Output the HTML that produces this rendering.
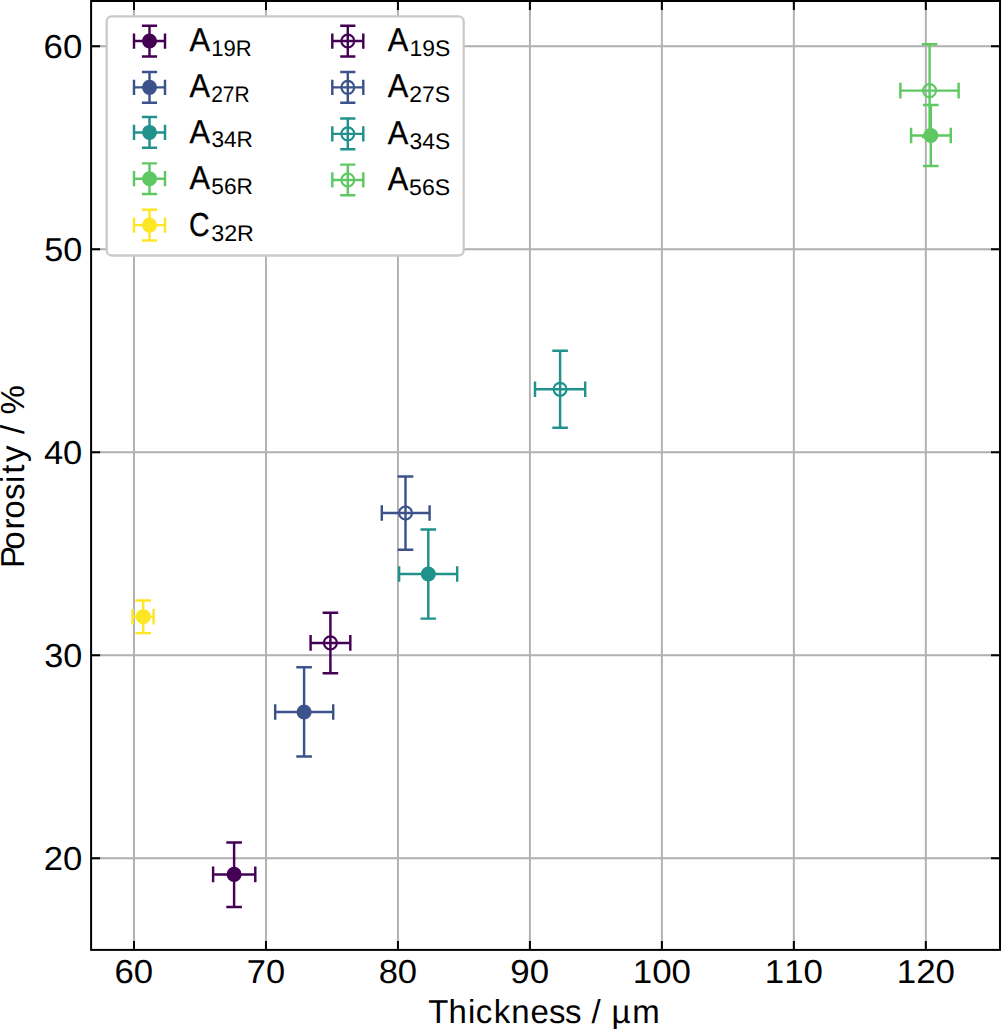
<!DOCTYPE html><html><head><meta charset="utf-8"><title>Porosity vs Thickness</title><style>html,body{margin:0;padding:0;background:#fff;overflow:hidden;}svg{display:block;text-rendering:geometricPrecision;}text{font-family:"Liberation Sans",sans-serif;fill:#000;font-kerning:none;}</style></head><body><svg width="1001" height="1029" viewBox="0 0 1001 1029"><rect x="0" y="0" width="1001" height="1029" fill="#fff"/><path d="M134.00 1.0V949.9 M265.97 1.0V949.9 M397.94 1.0V949.9 M529.91 1.0V949.9 M661.88 1.0V949.9 M793.85 1.0V949.9 M925.82 1.0V949.9 M91.1 858.30H1000.0 M91.1 655.27H1000.0 M91.1 452.25H1000.0 M91.1 249.23H1000.0 M91.1 46.20H1000.0" stroke="#b0b0b0" stroke-width="1.95" fill="none"/><path d="M213.10 874.40H255.30M234.10 842.40V907.00M213.10 866.60V882.20M255.30 866.60V882.20M226.30 842.40H241.90M226.30 907.00H241.90" stroke="#440154" stroke-width="2.45" fill="none"/><circle cx="234.10" cy="874.40" r="7.55" fill="#440154"/><path d="M310.60 642.90H350.30M330.40 612.70V673.30M310.60 635.10V650.70M350.30 635.10V650.70M322.60 612.70H338.20M322.60 673.30H338.20" stroke="#440154" stroke-width="2.45" fill="none"/><circle cx="330.40" cy="642.90" r="6.47" fill="none" stroke="#440154" stroke-width="2.15"/><path d="M275.20 712.00H333.20M304.10 667.30V756.40M275.20 704.20V719.80M333.20 704.20V719.80M296.30 667.30H311.90M296.30 756.40H311.90" stroke="#3b528b" stroke-width="2.45" fill="none"/><circle cx="304.10" cy="712.00" r="7.55" fill="#3b528b"/><path d="M381.80 513.00H429.60M405.50 476.50V549.80M381.80 505.20V520.80M429.60 505.20V520.80M397.70 476.50H413.30M397.70 549.80H413.30" stroke="#3b528b" stroke-width="2.45" fill="none"/><circle cx="405.50" cy="513.00" r="6.47" fill="none" stroke="#3b528b" stroke-width="2.15"/><path d="M399.10 574.00H457.20M428.30 529.40V618.60M399.10 566.20V581.80M457.20 566.20V581.80M420.50 529.40H436.10M420.50 618.60H436.10" stroke="#21918c" stroke-width="2.45" fill="none"/><circle cx="428.30" cy="574.00" r="7.55" fill="#21918c"/><path d="M535.00 389.30H585.20M560.10 350.80V427.80M535.00 381.50V397.10M585.20 381.50V397.10M552.30 350.80H567.90M552.30 427.80H567.90" stroke="#21918c" stroke-width="2.45" fill="none"/><circle cx="560.10" cy="389.30" r="6.47" fill="none" stroke="#21918c" stroke-width="2.15"/><path d="M900.40 90.60H958.60M929.60 44.30V136.90M900.40 82.80V98.40M958.60 82.80V98.40M921.80 44.30H937.40M921.80 136.90H937.40" stroke="#5ec962" stroke-width="2.45" fill="none"/><circle cx="929.60" cy="90.60" r="6.47" fill="none" stroke="#5ec962" stroke-width="2.15"/><path d="M911.10 135.50H950.80M930.80 105.00V166.00M911.10 127.70V143.30M950.80 127.70V143.30M923.00 105.00H938.60M923.00 166.00H938.60" stroke="#5ec962" stroke-width="2.45" fill="none"/><circle cx="930.80" cy="135.50" r="7.55" fill="#5ec962"/><path d="M132.60 616.70H153.60M143.20 600.50V633.10M132.60 608.90V624.50M153.60 608.90V624.50M135.40 600.50H151.00M135.40 633.10H151.00" stroke="#fde725" stroke-width="2.45" fill="none"/><circle cx="143.20" cy="616.70" r="7.55" fill="#fde725"/><path d="M134.00 949.9V940.9M134.00 1.0V10.0 M265.97 949.9V940.9M265.97 1.0V10.0 M397.94 949.9V940.9M397.94 1.0V10.0 M529.91 949.9V940.9M529.91 1.0V10.0 M661.88 949.9V940.9M661.88 1.0V10.0 M793.85 949.9V940.9M793.85 1.0V10.0 M925.82 949.9V940.9M925.82 1.0V10.0 M91.1 858.30H100.1M1000.0 858.30H991.0 M91.1 655.27H100.1M1000.0 655.27H991.0 M91.1 452.25H100.1M1000.0 452.25H991.0 M91.1 249.23H100.1M1000.0 249.23H991.0 M91.1 46.20H100.1M1000.0 46.20H991.0" stroke="#000" stroke-width="2" fill="none"/><rect x="91.1" y="1.0" width="908.9" height="948.9" fill="none" stroke="#000" stroke-width="2"/><text x="114.51" y="983.00" font-size="33.17" textLength="38.69" lengthAdjust="spacingAndGlyphs">60</text><text x="246.86" y="983.00" font-size="33.17" textLength="38.29" lengthAdjust="spacingAndGlyphs">70</text><text x="378.65" y="983.00" font-size="33.17" textLength="38.48" lengthAdjust="spacingAndGlyphs">80</text><text x="510.33" y="983.00" font-size="33.17" textLength="38.77" lengthAdjust="spacingAndGlyphs">90</text><text x="632.79" y="983.00" font-size="33.17" textLength="58.25" lengthAdjust="spacingAndGlyphs">100</text><text x="764.76" y="983.00" font-size="33.17" textLength="58.25" lengthAdjust="spacingAndGlyphs">110</text><text x="896.73" y="983.00" font-size="33.17" textLength="58.25" lengthAdjust="spacingAndGlyphs">120</text><text x="43.72" y="870.10" font-size="33.17" textLength="38.55" lengthAdjust="spacingAndGlyphs">20</text><text x="44.25" y="667.07" font-size="33.17" textLength="38.00" lengthAdjust="spacingAndGlyphs">30</text><text x="43.91" y="464.05" font-size="33.17" textLength="38.36" lengthAdjust="spacingAndGlyphs">40</text><text x="44.22" y="261.03" font-size="33.17" textLength="38.04" lengthAdjust="spacingAndGlyphs">50</text><text x="43.59" y="58.00" font-size="33.17" textLength="38.69" lengthAdjust="spacingAndGlyphs">60</text><text transform="scale(0.9941 1)" x="430.90 451.14 470.77 478.57 496.62 514.29 533.59 552.25 568.36 584.49 594.92 604.74 615.03 635.93" y="1022.70" font-size="33.17">Thickness / µm</text><text transform="translate(23.60 564.6) rotate(-90) scale(0.9946 1)" x="-3.46 14.98 35.24 46.23 65.06 81.93 91.37 103.12 120.65 131.23 141.10 150.88" y="0.00" font-size="33.17">Porosity / %</text><rect x="106.7" y="16.3" width="357.00" height="239.20" rx="5" ry="5" fill="#fff" stroke="#cacaca" stroke-width="2.3"/><path d="M134.00 41.05H165.00M149.50 25.70V56.40M134.00 33.45V48.65M165.00 33.45V48.65M141.90 25.70H157.10M141.90 56.40H157.10" stroke="#440154" stroke-width="2.45" fill="none"/><circle cx="149.50" cy="41.05" r="7.50" fill="#440154"/><text x="189.59" y="51.35" font-size="33.17" textLength="20.52" lengthAdjust="spacingAndGlyphs" style="stroke:#000;stroke-width:0.3px">A</text><text x="211.32" y="56.20" font-size="22.60" textLength="40.40" lengthAdjust="spacingAndGlyphs">19R</text><path d="M134.00 87.35H165.00M149.50 72.00V102.70M134.00 79.75V94.95M165.00 79.75V94.95M141.90 72.00H157.10M141.90 102.70H157.10" stroke="#3b528b" stroke-width="2.45" fill="none"/><circle cx="149.50" cy="87.35" r="7.50" fill="#3b528b"/><text x="189.59" y="97.35" font-size="33.17" textLength="20.52" lengthAdjust="spacingAndGlyphs" style="stroke:#000;stroke-width:0.3px">A</text><text x="211.15" y="102.20" font-size="22.60" textLength="38.43" lengthAdjust="spacingAndGlyphs">27R</text><path d="M134.00 132.40H165.00M149.50 117.05V147.75M134.00 124.80V140.00M165.00 124.80V140.00M141.90 117.05H157.10M141.90 147.75H157.10" stroke="#21918c" stroke-width="2.45" fill="none"/><circle cx="149.50" cy="132.40" r="7.50" fill="#21918c"/><text x="189.59" y="142.55" font-size="33.17" textLength="20.52" lengthAdjust="spacingAndGlyphs" style="stroke:#000;stroke-width:0.3px">A</text><text x="211.44" y="147.40" font-size="22.60" textLength="41.51" lengthAdjust="spacingAndGlyphs">34R</text><path d="M134.00 178.70H165.00M149.50 163.35V194.05M134.00 171.10V186.30M165.00 171.10V186.30M141.90 163.35H157.10M141.90 194.05H157.10" stroke="#5ec962" stroke-width="2.45" fill="none"/><circle cx="149.50" cy="178.70" r="7.50" fill="#5ec962"/><text x="189.59" y="188.65" font-size="33.17" textLength="20.52" lengthAdjust="spacingAndGlyphs" style="stroke:#000;stroke-width:0.3px">A</text><text x="211.39" y="193.50" font-size="22.60" textLength="41.56" lengthAdjust="spacingAndGlyphs">56R</text><path d="M134.00 225.10H165.00M149.50 209.75V240.45M134.00 217.50V232.70M165.00 217.50V232.70M141.90 209.75H157.10M141.90 240.45H157.10" stroke="#fde725" stroke-width="2.45" fill="none"/><circle cx="149.50" cy="225.10" r="7.50" fill="#fde725"/><text x="189.10" y="235.85" font-size="33.17" textLength="20.64" lengthAdjust="spacingAndGlyphs" style="stroke:#000;stroke-width:0.3px">C</text><text x="211.21" y="240.70" font-size="22.60" textLength="42.66" lengthAdjust="spacingAndGlyphs">32R</text><path d="M332.30 41.05H363.30M347.80 25.70V56.40M332.30 33.45V48.65M363.30 33.45V48.65M340.20 25.70H355.40M340.20 56.40H355.40" stroke="#440154" stroke-width="2.45" fill="none"/><circle cx="347.80" cy="41.05" r="6.42" fill="none" stroke="#440154" stroke-width="2.15"/><text x="387.79" y="51.25" font-size="33.17" textLength="20.52" lengthAdjust="spacingAndGlyphs" style="stroke:#000;stroke-width:0.3px">A</text><text x="409.46" y="56.10" font-size="22.60" textLength="40.69" lengthAdjust="spacingAndGlyphs">19S</text><path d="M332.30 87.35H363.30M347.80 72.00V102.70M332.30 79.75V94.95M363.30 79.75V94.95M340.20 72.00H355.40M340.20 102.70H355.40" stroke="#3b528b" stroke-width="2.45" fill="none"/><circle cx="347.80" cy="87.35" r="6.42" fill="none" stroke="#3b528b" stroke-width="2.15"/><text x="387.79" y="97.35" font-size="33.17" textLength="20.52" lengthAdjust="spacingAndGlyphs" style="stroke:#000;stroke-width:0.3px">A</text><text x="409.24" y="102.20" font-size="22.60" textLength="40.91" lengthAdjust="spacingAndGlyphs">27S</text><path d="M332.30 133.85H363.30M347.80 118.50V149.20M332.30 126.25V141.45M363.30 126.25V141.45M340.20 118.50H355.40M340.20 149.20H355.40" stroke="#21918c" stroke-width="2.45" fill="none"/><circle cx="347.80" cy="133.85" r="6.42" fill="none" stroke="#21918c" stroke-width="2.15"/><text x="387.79" y="143.75" font-size="33.17" textLength="20.52" lengthAdjust="spacingAndGlyphs" style="stroke:#000;stroke-width:0.3px">A</text><text x="409.63" y="148.60" font-size="22.60" textLength="40.51" lengthAdjust="spacingAndGlyphs">34S</text><path d="M332.30 179.95H363.30M347.80 164.60V195.30M332.30 172.35V187.55M363.30 172.35V187.55M340.20 164.60H355.40M340.20 195.30H355.40" stroke="#5ec962" stroke-width="2.45" fill="none"/><circle cx="347.80" cy="179.95" r="6.42" fill="none" stroke="#5ec962" stroke-width="2.15"/><text x="387.79" y="190.45" font-size="33.17" textLength="20.52" lengthAdjust="spacingAndGlyphs" style="stroke:#000;stroke-width:0.3px">A</text><text x="409.08" y="195.30" font-size="22.60" textLength="41.08" lengthAdjust="spacingAndGlyphs">56S</text></svg></body></html>
